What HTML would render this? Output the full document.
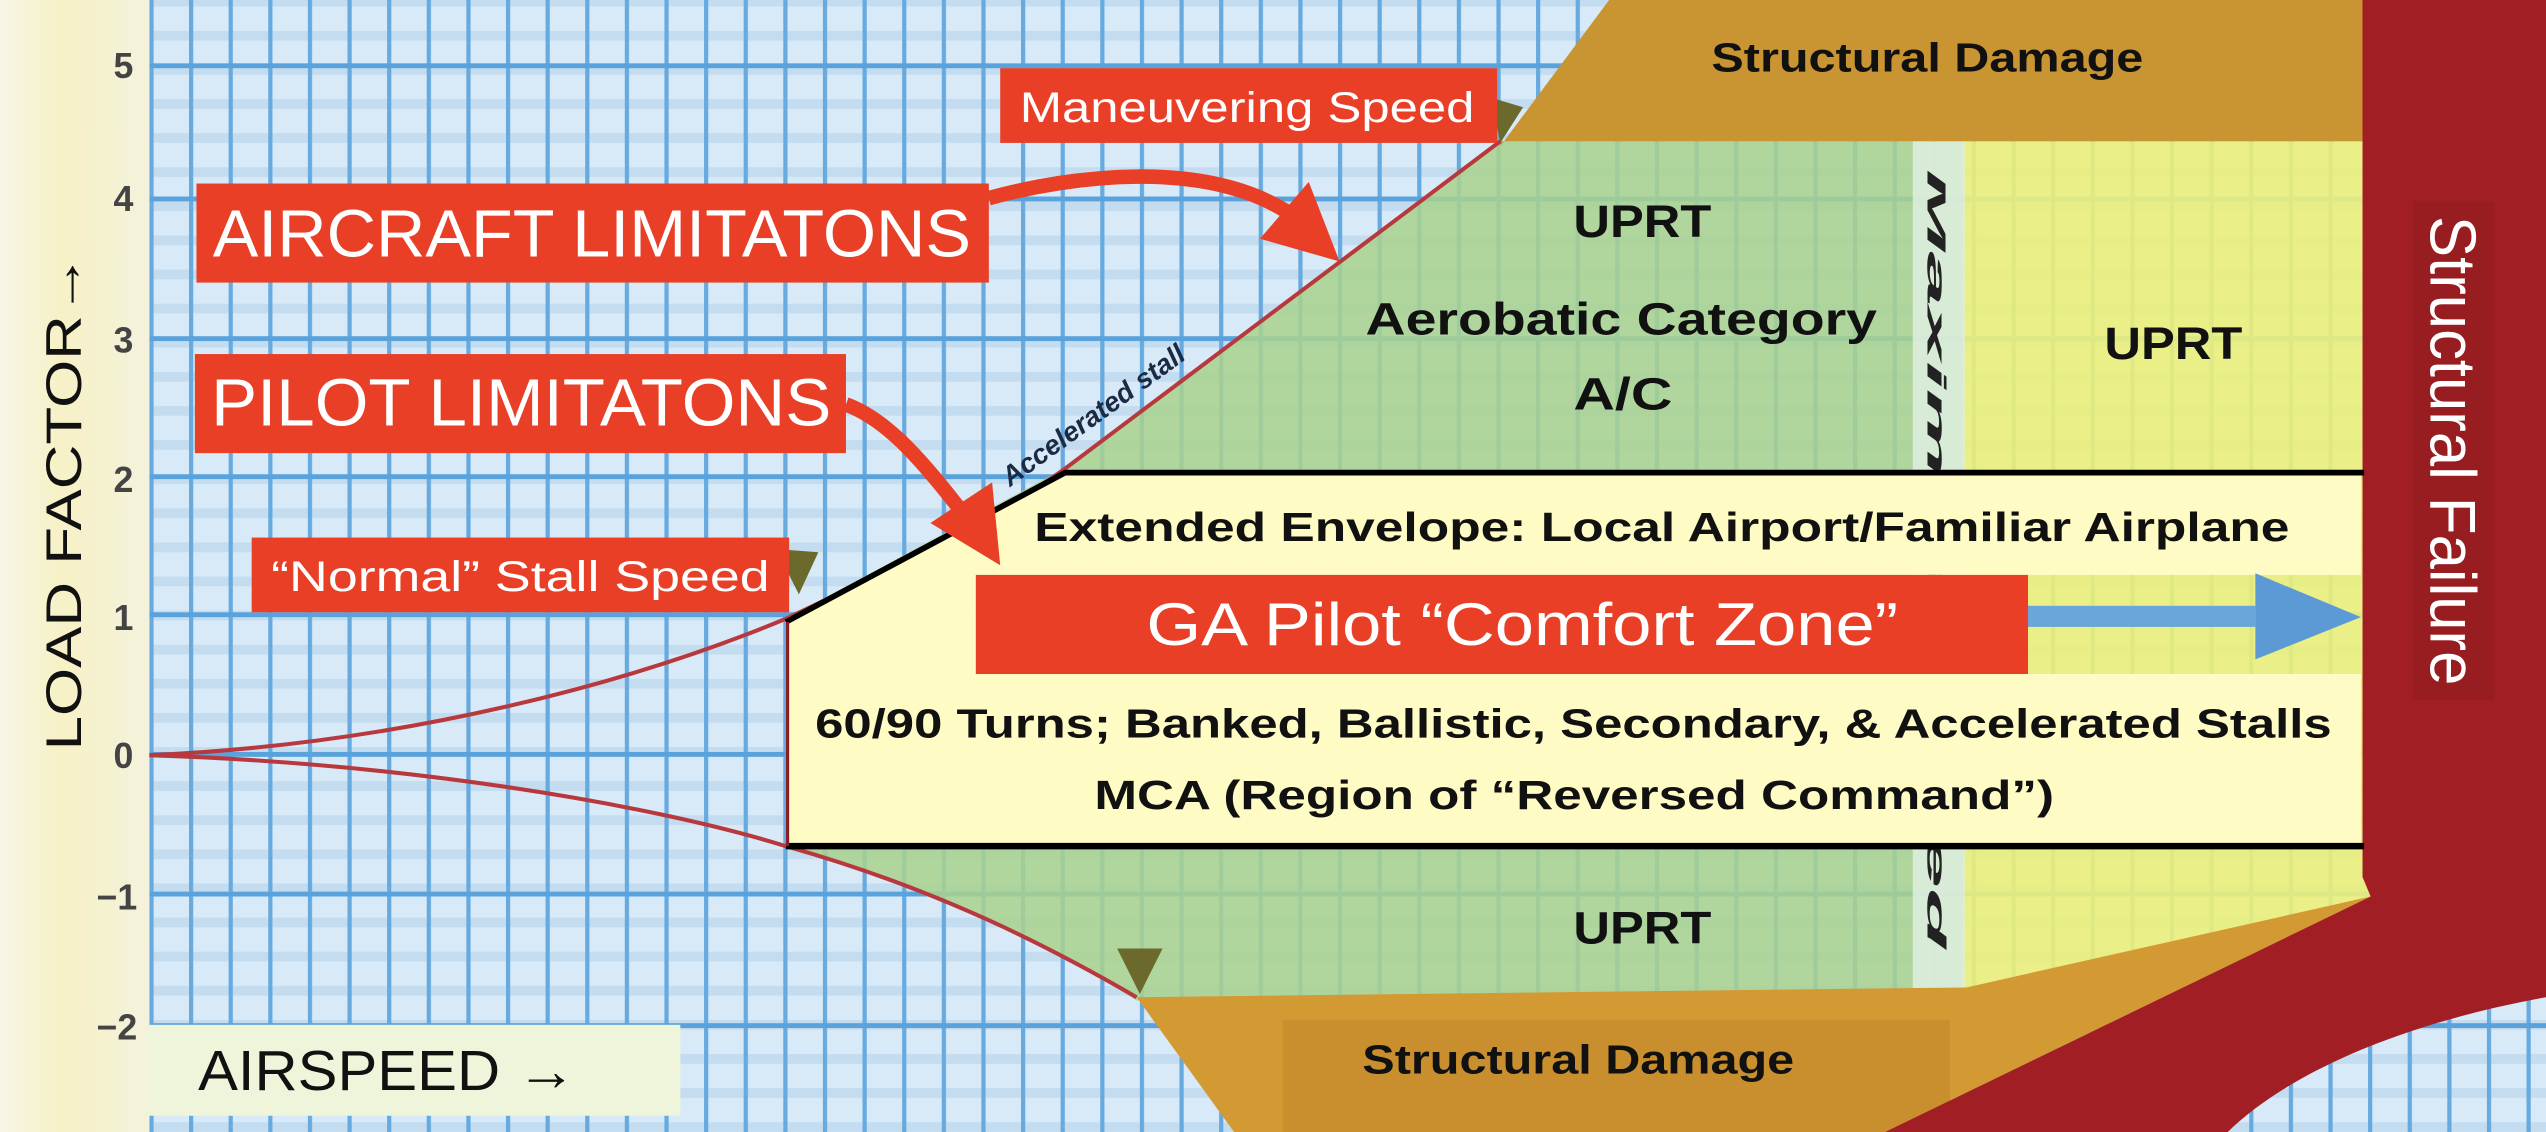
<!DOCTYPE html>
<html><head><meta charset="utf-8"><style>
html,body{margin:0;padding:0;background:#fff;}
svg{display:block;}
text{font-family:"Liberation Sans",sans-serif;}
</style></head><body>
<svg width="2546" height="1132" viewBox="0 0 1568 697" preserveAspectRatio="none" xmlns="http://www.w3.org/2000/svg">
<defs>
<pattern id="grid" x="92" y="0" width="24.4" height="697" patternUnits="userSpaceOnUse">
<rect x="0" y="0" width="2.6" height="697" fill="#66aadf"/>
</pattern>
<pattern id="hminor" x="0" y="19" width="10" height="21" patternUnits="userSpaceOnUse">
<rect x="0" y="0" width="10" height="6" fill="#c4dcef"/>
</pattern>
<linearGradient id="lft" x1="0" x2="1"><stop offset="0" stop-color="#f7f5e6"/><stop offset="0.4" stop-color="#f6f1c6"/><stop offset="1" stop-color="#f4f2dc"/></linearGradient>
</defs>
<rect x="0" y="0" width="1568" height="697" fill="#d8eaf8"/>
<rect x="92" y="0" width="1476" height="697" fill="url(#hminor)"/>
<rect x="92" y="0" width="1476" height="697" fill="url(#grid)"/>
<g fill="#5aa2dc">
<rect x="92" y="39" width="1476" height="3"/>
<rect x="92" y="121" width="1476" height="3"/>
<rect x="92" y="207" width="1476" height="3"/>
<rect x="92" y="292" width="1476" height="3"/>
<rect x="92" y="377" width="1476" height="3"/>
<rect x="92" y="463" width="1476" height="3"/>
<rect x="92" y="549" width="1476" height="3"/>
<rect x="92" y="630" width="1476" height="3"/>
</g>
<rect x="0" y="0" width="92" height="697" fill="url(#lft)"/>
<g font-size="22" fill="#444" font-weight="bold" text-anchor="middle">
<text x="76" y="48">5</text><text x="76" y="130">4</text><text x="76" y="217">3</text>
<text x="76" y="303">2</text><text x="76" y="388">1</text><text x="76" y="473">0</text>
<text x="72" y="560">−1</text><text x="72" y="640">−2</text>
</g>
<text transform="translate(50,462) rotate(-90)" font-size="31" fill="#111" textLength="306" lengthAdjust="spacingAndGlyphs">LOAD FACTOR→</text>

<path d="M484 381 L658 287 L924 87 L1210 87 L1210 616 L700 616 C650 585 580 548 484 521 Z" fill="#a9d28e" opacity="0.85"/>
<rect x="1209" y="87" width="255" height="530" fill="#ecf07a" opacity="0.9"/>
<rect x="1178" y="87" width="32" height="580" fill="#dfeee0" opacity="0.85"/>
<text transform="translate(1187,104) rotate(90)" font-size="16" font-weight="bold" font-style="italic" fill="#222" textLength="480" lengthAdjust="spacingAndGlyphs">Maximum Speed</text>
<polygon points="924,90 991,0 1464,0 1464,87 924,87" fill="#c99432"/>
<polygon points="700,614 1211,608 1460,552 1161,697 760,697" fill="#d39a33"/>
<rect x="790" y="628" width="411" height="69" fill="#c98f2e"/>
<path d="M1455 0 L1568 0 L1568 614 C1480 630 1410 660 1372 697 L1161 697 L1460 552 L1455 540 Z" fill="#a11f24"/>
<rect x="1486" y="124" width="50" height="307" fill="#981d20"/>
<text transform="translate(1497,133) rotate(90)" font-size="40" fill="#fff" textLength="289" lengthAdjust="spacingAndGlyphs">Structural Failure</text>

<path d="M92 465 C250 458 390 420 484 381 C560 345 620 315 658 287 L924 87" fill="none" stroke="#b8393d" stroke-width="2.5"/>
<path d="M92 465 C250 470 400 495 484 521 C580 548 650 585 700 614" fill="none" stroke="#b8393d" stroke-width="2.5"/>
<polygon points="478,338 504,340 492,366" fill="#6b6a2c"/>
<polygon points="688,584 716,584 702,612" fill="#6b6a2c"/>
<polygon points="918,60 938,66 924,88" fill="#6b6a2c"/>
<text transform="translate(622,300) rotate(-36)" font-size="17" font-weight="bold" font-style="italic" fill="#1d2a44">Accelerated stall</text>

<g fill="#111" font-size="28" font-weight="bold">
<text x="969" y="146" textLength="85" lengthAdjust="spacingAndGlyphs">UPRT</text>
<text x="841" y="206" textLength="315" lengthAdjust="spacingAndGlyphs">Aerobatic Category</text>
<text x="969" y="252" textLength="61" lengthAdjust="spacingAndGlyphs">A/C</text>
<text x="1296" y="221" textLength="85" lengthAdjust="spacingAndGlyphs">UPRT</text>
<text x="969" y="581" textLength="85" lengthAdjust="spacingAndGlyphs">UPRT</text>
</g>
<text x="1054" y="44" font-size="25" font-weight="bold" fill="#111" textLength="266" lengthAdjust="spacingAndGlyphs">Structural Damage</text>
<text x="839" y="661" font-size="25" font-weight="bold" fill="#111" textLength="266" lengthAdjust="spacingAndGlyphs">Structural Damage</text>

<polygon points="484,381 656,291 1454,291 1454,354 601,354 601,415 1454,415 1454,521 484,521" fill="#fffbc4"/>
<rect x="1249" y="373" width="140" height="13" fill="#6aa6da"/>
<polygon points="1389,353 1454,380 1389,406" fill="#5b9ad4"/>
<polyline points="484,383 656,291 1456,291" fill="none" stroke="#000" stroke-width="3.5"/>
<line x1="484" y1="521" x2="1456" y2="521" stroke="#000" stroke-width="4"/>
<line x1="485" y1="383" x2="485" y2="521" stroke="#8b1c24" stroke-width="2"/>
<rect x="601" y="354" width="648" height="61" fill="#e83f26"/>
<text x="706" y="397" font-size="37" fill="#fff" textLength="463" lengthAdjust="spacingAndGlyphs">GA Pilot “Comfort Zone”</text>
<text x="637" y="333" font-size="25" font-weight="bold" fill="#111" textLength="773" lengthAdjust="spacingAndGlyphs">Extended Envelope: Local Airport/Familiar Airplane</text>
<text x="502" y="454" font-size="25" font-weight="bold" fill="#111" textLength="934" lengthAdjust="spacingAndGlyphs">60/90 Turns; Banked, Ballistic, Secondary, &amp; Accelerated Stalls</text>
<text x="674" y="498" font-size="25" font-weight="bold" fill="#111" textLength="591" lengthAdjust="spacingAndGlyphs">MCA (Region of “Reversed Command”)</text>

<rect x="616" y="42" width="306" height="46" fill="#e83f26"/>
<text x="628" y="75" font-size="26" fill="#fff" textLength="280" lengthAdjust="spacingAndGlyphs">Maneuvering Speed</text>
<rect x="121" y="113" width="488" height="61" fill="#e83f26"/>
<text x="131" y="158" font-size="41" fill="#fff" textLength="467" lengthAdjust="spacingAndGlyphs">AIRCRAFT LIMITATONS</text>
<rect x="120" y="218" width="401" height="61" fill="#e83f26"/>
<text x="130" y="262" font-size="41" fill="#fff" textLength="382" lengthAdjust="spacingAndGlyphs">PILOT LIMITATONS</text>
<rect x="155" y="331" width="331" height="46" fill="#e83f26"/>
<text x="167" y="364" font-size="26" fill="#fff" textLength="307" lengthAdjust="spacingAndGlyphs">“Normal” Stall Speed</text>
<rect x="90" y="631" width="329" height="56" fill="#eef5da"/>
<text x="122" y="671" font-size="35" fill="#111" textLength="233" lengthAdjust="spacingAndGlyphs">AIRSPEED →</text>

<path d="M609 122 C660 108 740 98 792 130" fill="none" stroke="#e83f26" stroke-width="9"/>
<polygon points="806,112 825,161 776,147" fill="#e83f26"/>
<path d="M521 249 C545 258 565 280 590 312" fill="none" stroke="#e83f26" stroke-width="9"/>
<polygon points="573,322 611,297 616,348" fill="#e83f26"/>
</svg>
</body></html>
